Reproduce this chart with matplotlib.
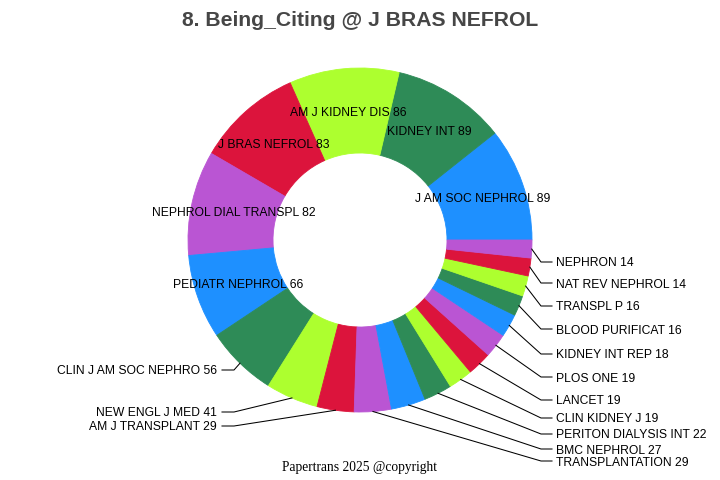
import numpy as np
import matplotlib.pyplot as plt

plt.rcParams['font.family'] = ['Liberation Sans', 'DejaVu Sans']

journals = ["J AM SOC NEPHROL", "KIDNEY INT", "AM J KIDNEY DIS", "J BRAS NEFROL",
            "NEPHROL DIAL TRANSPL", "PEDIATR NEPHROL", "CLIN J AM SOC NEPHRO",
            "NEW ENGL J MED", "AM J TRANSPLANT", "TRANSPLANTATION", "BMC NEPHROL",
            "PERITON DIALYSIS INT", "CLIN KIDNEY J", "LANCET", "PLOS ONE",
            "KIDNEY INT REP", "BLOOD PURIFICAT", "TRANSPL P", "NAT REV NEPHROL", "NEPHRON"]
counts = [89, 89, 86, 83, 82, 66, 56, 41, 29, 29, 27, 22, 19, 19, 19, 18, 16, 16, 14, 14]
palette = ["#1E90FF", "#2E8B57", "#ADFF2F", "#DC143C", "#BA55D3"]

# layout (pixels, y from top) for the outside labels, in data order
outside_y = {6: 370, 7: 412, 8: 426, 9: 461, 10: 449, 11: 434, 12: 418,
             13: 400, 14: 377, 15: 354, 16: 329, 17: 306, 18: 283, 19: 262}

W, H = 720, 480
cx, cy = 360, 240
R, r_in = 172, 87
fs = 8.75

fig = plt.figure(figsize=(7.2, 4.8), dpi=100)
ax = fig.add_axes([0, 0, 1, 1])

colors = [palette[i % len(palette)] for i in range(len(counts))]
wedges, _ = ax.pie(counts, colors=colors, startangle=0, counterclock=True,
                   center=(cx, H - cy), radius=R,
                   wedgeprops=dict(width=R - r_in, linewidth=0.6))
for w, c in zip(wedges, colors):
    w.set_edgecolor(c)

for i, w in enumerate(wedges):
    ang = np.deg2rad((w.theta1 + w.theta2) / 2)
    label = f"{journals[i]} {counts[i]}"
    if i not in outside_y:
        rm = (R + r_in) / 2
        ax.text(cx + rm * np.cos(ang), H - cy + rm * np.sin(ang), label,
                ha='center', va='center_baseline', fontsize=fs, color='black')
        continue
    x0 = cx + R * np.cos(ang)
    y0 = H - cy + R * np.sin(ang)
    ly = H - outside_y[i]
    if np.cos(ang) >= 0:
        xb, xe, xt, ha = 541, 552, 556, 'left'
    else:
        xb, xe, xt, ha = 234, 222, 217, 'right'
    ax.plot([x0, xb, xe], [y0, ly, ly], color='black', lw=0.75)
    ax.text(xt, ly, label, ha=ha, va='center_baseline', fontsize=fs, color='black')

ax.set_xlim(0, W)
ax.set_ylim(0, H)
ax.set_aspect('equal')
ax.axis('off')

fig.text(0.5, 1 - 18 / H, "8. Being_Citing @ J BRAS NEFROL", ha='center',
         va='center_baseline', fontsize=15.2, fontweight='bold', color='#464646')
fig.text(0.5, 1 - 466 / H, "Papertrans 2025 @copyright", ha='center',
         va='center_baseline', fontsize=9.75, family='Liberation Serif', color='black')

fig.savefig("out.png", dpi=100)
